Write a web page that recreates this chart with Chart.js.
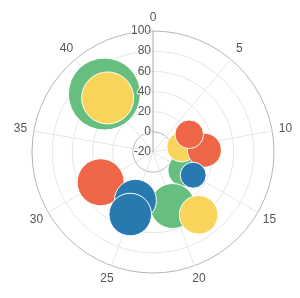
<!DOCTYPE html>
<html>
<head>
<meta charset="utf-8">
<script src="https://cdn.jsdelivr.net/npm/chart.js@4/dist/chart.umd.min.js"></script>
<style>
  html, body { margin: 0; padding: 0; background: #fff; }
  #wrap { width: 300px; height: 298px; position: relative; }
</style>
</head>
<body>
<div id="wrap"><canvas id="polarBubble"></canvas></div>
<script>
// angle axis runs 0..45, labelled every 5
const angleSteps = Array.from({ length: 45 }, (_, i) => String(i));
const angleLabelEvery = 5;
const radialTicks = [-20, 0, 20, 40, 60, 80, 100];

// each series: angle, radial value, bubble size
const greenAngle = [40, 15, 20];
const greenValue = [55, 16, 37];
const greenSize = [36, 16.5, 22.5];

const yellowAngle = [40, 10, 18];
const yellowValue = [50, 9, 57];
const yellowSize = [26, 15, 19.3];

const redAngle = [11, 8, 30];
const redValue = [31, 20, 40];
const redSize = [17, 14.3, 23.5];

const blueAngle = [15, 25, 25];
const blueValue = [26, 31, 46];
const blueSize = [13, 21, 21.3];

const series = [
    { color: '#66bf7e', angle: greenAngle, value: greenValue, size: greenSize },
    { color: '#f9d45b', angle: yellowAngle, value: yellowValue, size: yellowSize },
    { color: '#ee6647', angle: redAngle, value: redValue, size: redSize },
    { color: '#2979b1', angle: blueAngle, value: blueValue, size: blueSize }
];

// one dataset per bubble so the paint order follows the lists above
const bubbles = [];
series.forEach(s => {
    s.angle.forEach((a, i) => {
        const data = angleSteps.map(() => null);
        data[a] = s.value[i];
        bubbles.push({
            data,
            showLine: false,
            fill: false,
            pointRadius: s.size[i],
            pointHoverRadius: s.size[i],
            pointBackgroundColor: s.color,
            pointBorderColor: '#fff',
            pointBorderWidth: 1
        });
    });
});
bubbles.forEach((d, i) => { d.order = bubbles.length - i; });

const FONT = '"Liberation Sans", Arial, sans-serif';
const TEXT = '#555';

// radial tick labels sit left of the axis line, on top of the bubbles
const tickLabels = {
    id: 'tickLabels',
    afterDatasetsDraw(chart) {
        const r = chart.scales.r;
        const ctx = chart.ctx;
        ctx.save();
        ctx.font = '12px ' + FONT;
        ctx.textAlign = 'right';
        ctx.textBaseline = 'middle';
        ctx.lineJoin = 'round';
        radialTicks.forEach(v => {
            const y = r.yCenter - r.getDistanceFromCenterForValue(v);
            ctx.strokeStyle = 'rgba(255,255,255,0.6)';
            ctx.lineWidth = 3;
            ctx.strokeText(String(v), r.xCenter - 2, y);
            ctx.fillStyle = TEXT;
            ctx.fillText(String(v), r.xCenter - 2, y);
        });
        ctx.restore();
    }
};

// angle labels centred just outside the outer ring
const angleLabels = {
    id: 'angleLabels',
    afterDraw(chart) {
        const r = chart.scales.r;
        const ctx = chart.ctx;
        ctx.save();
        ctx.font = '12px ' + FONT;
        ctx.fillStyle = TEXT;
        ctx.textAlign = 'center';
        ctx.textBaseline = 'middle';
        angleSteps.forEach((label, i) => {
            if (i % angleLabelEvery !== 0) return;
            const p = r.getPointPosition(i, r.drawingArea + 13.5);
            ctx.fillText(label, p.x, p.y);
        });
        ctx.restore();
    }
};

new Chart(document.getElementById('polarBubble'), {
    type: 'radar',
    data: { labels: angleSteps, datasets: bubbles },
    options: {
        responsive: true,
        maintainAspectRatio: false,
        animation: false,
        layout: { padding: { left: 32, right: 26, top: 31, bottom: 25 } },
        plugins: { legend: { display: false }, tooltip: { enabled: false } },
        scales: {
            r: {
                min: -20,
                max: 100,
                ticks: { stepSize: 20, display: false },
                grid: {
                    circular: true,
                    color: (c) => (c.tick && (c.tick.value === 0 || c.tick.value === 100)) ? '#b5b5b5' : '#e6e6e6',
                    lineWidth: 1
                },
                angleLines: {
                    color: (c) => c.index === 0 ? '#a8a8a8' : '#e6e6e6',
                    lineWidth: (c) => c.index % angleLabelEvery === 0 ? 1 : 0
                },
                pointLabels: { display: false }
            }
        }
    },
    plugins: [tickLabels, angleLabels]
});
</script>
</body>
</html>
